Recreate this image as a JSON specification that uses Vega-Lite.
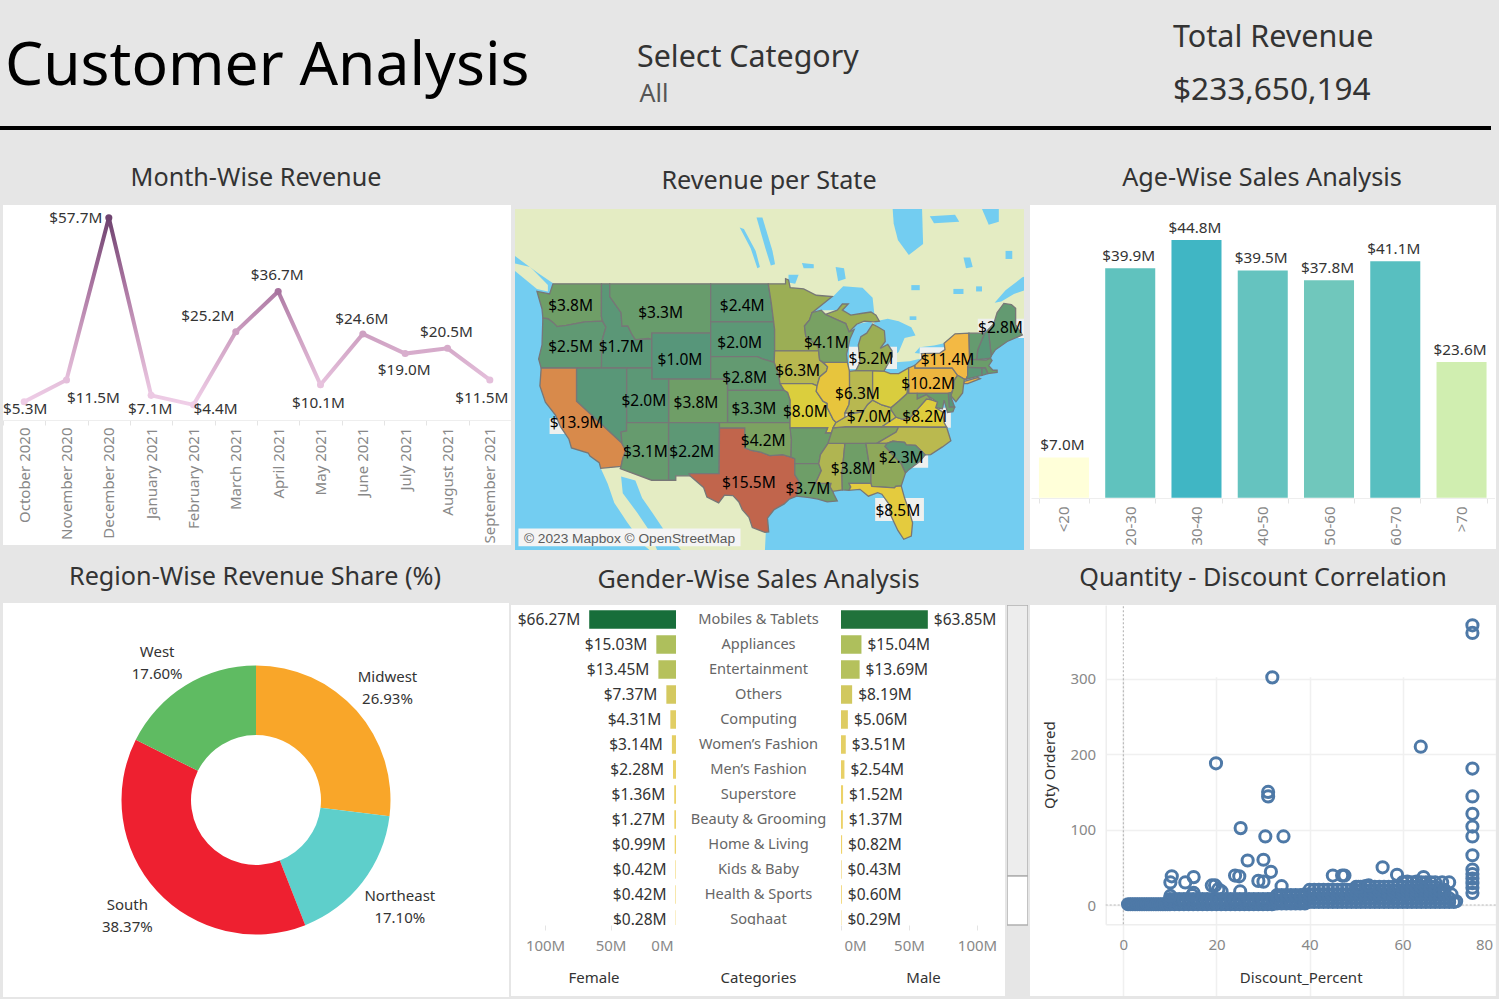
{"$schema":"https://vega.github.io/schema/vega-lite/v6.json","background":"#e6e6e6","padding":{"left":0,"top":0,"right":0,"bottom":2},"config":{"font":"Noto Sans","concat":{"spacing":0},"view":{"stroke":null},"style":{"cell":{"clip":true}},"axis":{"labelFont":"Noto Sans","titleFont":"Noto Sans"}},
"resolve":{"scale":{"color":"independent"}},
"datasets":{
"months":[{"month":"October 2020","rev":5.3,"label":"$5.3M"},{"month":"November 2020","rev":11.5,"label":"$11.5M"},{"month":"December 2020","rev":57.7,"label":"$57.7M"},{"month":"January 2021","rev":7.1,"label":"$7.1M"},{"month":"February 2021","rev":4.4,"label":"$4.4M"},{"month":"March 2021","rev":25.2,"label":"$25.2M"},{"month":"April 2021","rev":36.7,"label":"$36.7M"},{"month":"May 2021","rev":10.1,"label":"$10.1M"},{"month":"June 2021","rev":24.6,"label":"$24.6M"},{"month":"July 2021","rev":19.0,"label":"$19.0M"},{"month":"August 2021","rev":20.5,"label":"$20.5M"},{"month":"September 2021","rev":11.5,"label":"$11.5M"}],
"ages":[{"age":"<20","rev":7.0,"label":"$7.0M"},{"age":"20-30","rev":39.9,"label":"$39.9M"},{"age":"30-40","rev":44.8,"label":"$44.8M"},{"age":"40-50","rev":39.5,"label":"$39.5M"},{"age":"50-60","rev":37.8,"label":"$37.8M"},{"age":"60-70","rev":41.1,"label":"$41.1M"},{"age":">70","rev":23.6,"label":"$23.6M"}],
"regions":[{"region":"Midwest","share":26.93,"pct":"26.93%","i":1},{"region":"Northeast","share":17.10,"pct":"17.10%","i":2},{"region":"South","share":38.37,"pct":"38.37%","i":3},{"region":"West","share":17.60,"pct":"17.60%","i":4}],
"gender":[{"cat":"Mobiles & Tablets","f":66.27,"m":63.85,"fl":"$66.27M","ml":"$63.85M"},{"cat":"Appliances","f":15.03,"m":15.04,"fl":"$15.03M","ml":"$15.04M"},{"cat":"Entertainment","f":13.45,"m":13.69,"fl":"$13.45M","ml":"$13.69M"},{"cat":"Others","f":7.37,"m":8.19,"fl":"$7.37M","ml":"$8.19M"},{"cat":"Computing","f":4.31,"m":5.06,"fl":"$4.31M","ml":"$5.06M"},{"cat":"Women’s Fashion","f":3.14,"m":3.51,"fl":"$3.14M","ml":"$3.51M"},{"cat":"Men’s Fashion","f":2.28,"m":2.54,"fl":"$2.28M","ml":"$2.54M"},{"cat":"Superstore","f":1.36,"m":1.52,"fl":"$1.36M","ml":"$1.52M"},{"cat":"Beauty & Grooming","f":1.27,"m":1.37,"fl":"$1.27M","ml":"$1.37M"},{"cat":"Home & Living","f":0.99,"m":0.82,"fl":"$0.99M","ml":"$0.82M"},{"cat":"Kids & Baby","f":0.42,"m":0.43,"fl":"$0.42M","ml":"$0.43M"},{"cat":"Health & Sports","f":0.42,"m":0.60,"fl":"$0.42M","ml":"$0.60M"},{"cat":"Soghaat","f":0.28,"m":0.29,"fl":"$0.28M","ml":"$0.29M"}],
"land":[
{"type":"Feature","properties":{"name":"North America"},"geometry":{"type":"Polygon","coordinates":[[[-130,62],[-95,64],[-60,62],[-60,47],[-66.9,45.1],[-69,45],[-72,43],[-75,41],[-78,37],[-81,33],[-82,30],[-84,31],[-90,31],[-94,30.5],[-98,28],[-97.5,25.9],[-97.6,24],[-97.8,22],[-106,22],[-108,24.5],[-109.5,26],[-111,28],[-112.2,29.5],[-113,31.3],[-114.7,31.7],[-114.5,30],[-112.8,28],[-111.3,26],[-110,23],[-112,24.5],[-114,27],[-115.5,29],[-116.3,31],[-117.12,32.53],[-117,33.5],[-120,36],[-122,39],[-123,42],[-122.5,46],[-122.7,49],[-124.5,49.8],[-126,50.5],[-127.5,51.2],[-128,52],[-130,54],[-130,62]]]}},
{"type":"Feature","properties":{"name":"Vancouver Island"},"geometry":{"type":"Polygon","coordinates":[[[-128.3,50.7],[-125.5,50.3],[-123.4,48.9],[-123.4,48.4],[-124.7,48.6],[-128.3,50.5],[-128.3,50.7]]]}}],
"water":[
{"type":"Feature","properties":{"name":"Superior"},"geometry":{"type":"Polygon","coordinates":[[[-92,46.7],[-90.5,47.6],[-89.5,48],[-88.3,48.8],[-86,48.7],[-84.8,47.9],[-84.6,46.6],[-85,46.75],[-86,46.65],[-87.4,46.5],[-88.4,46.9],[-87.7,47.4],[-88.4,47.4],[-89,46.9],[-90.9,46.9],[-92,46.7]]]}},
{"type":"Feature","properties":{"name":"Michigan"},"geometry":{"type":"Polygon","coordinates":[[[-87.6,45.1],[-86.7,45.75],[-85,46],[-84.8,45.75],[-85.5,45],[-86.2,44.7],[-86.5,44],[-86.3,42.5],[-86.8,41.76],[-87.55,41.7],[-87.8,42.5],[-87.9,43.2],[-87.5,44.5],[-87.6,45.1]]]}},
{"type":"Feature","properties":{"name":"Huron"},"geometry":{"type":"Polygon","coordinates":[[[-84.4,46],[-83,46.2],[-81.7,46],[-80.2,45.5],[-79.7,44.8],[-81,44.6],[-81.7,43.4],[-82.45,43],[-82.5,43.5],[-83,44.05],[-83.9,43.7],[-83.3,44.3],[-83.4,45.2],[-84.1,45.5],[-84.7,45.8],[-84.4,46]]]}},
{"type":"Feature","properties":{"name":"Erie"},"geometry":{"type":"Polygon","coordinates":[[[-83.45,41.72],[-83.1,42.2],[-82,42.5],[-80.4,42.6],[-78.9,42.85],[-79.76,42.25],[-80.52,42],[-81.7,41.5],[-82.7,41.5],[-83.45,41.72]]]}},
{"type":"Feature","properties":{"name":"Ontario"},"geometry":{"type":"Polygon","coordinates":[[[-79.8,43.3],[-79.2,43.8],[-77.5,43.95],[-76.3,44.15],[-76.2,43.6],[-76.8,43.3],[-79,43.25],[-79.8,43.3]]]}},
{"type":"Feature","properties":{"name":"St Lawrence"},"geometry":{"type":"Polygon","coordinates":[[[-70.3,47.5],[-69,48.5],[-67,49.5],[-65,50],[-65,48.9],[-68,48.2],[-69.5,47.6],[-70.3,47.5]]]}},
{"type":"Feature","properties":{"name":"James Bay"},"geometry":{"type":"Polygon","coordinates":[[[-82.6,56],[-79,56],[-78.8,52],[-80.5,51.2],[-81.8,52.3],[-82.3,53.5],[-82.6,56]]]}},
{"type":"Feature","properties":{"name":"Winnipeg"},"geometry":{"type":"Polygon","coordinates":[[[-98.6,53.9],[-97.9,53.9],[-96.7,51.5],[-96.4,50.5],[-96.9,50.4],[-97.6,51.8],[-98.6,53.9]]]}},
{"type":"Feature","properties":{"name":"Winnipegosis"},"geometry":{"type":"Polygon","coordinates":[[[-100.6,53.2],[-100.1,53.1],[-98.7,51.5],[-98.2,50.3],[-98.5,50.2],[-99.3,51.7],[-100.6,53.2]]]}},
{"type":"Feature","properties":{"name":"Lake of the Woods"},"geometry":{"type":"Polygon","coordinates":[[[-94.8,49.7],[-93.6,49.7],[-94,49],[-94.8,49.1],[-94.8,49.7]]]}},
{"type":"Feature","properties":{"name":"Nipigon"},"geometry":{"type":"Polygon","coordinates":[[[-89.2,50.3],[-88.2,50.2],[-88,49.4],[-88.9,49.2],[-89.2,50.3]]]}},
{"type":"Feature","properties":{"name":"Seul"},"geometry":{"type":"Polygon","coordinates":[[[-93.2,50.6],[-91.8,50.5],[-91.8,50.2],[-93,50.2],[-93.2,50.6]]]}},
{"type":"Feature","properties":{"name":"Mistassini"},"geometry":{"type":"Polygon","coordinates":[[[-74,51],[-73.2,51],[-72.9,50.3],[-73.7,50.2],[-74,51]]]}},
{"type":"Feature","properties":{"name":"La Grande"},"geometry":{"type":"Polygon","coordinates":[[[-78,54],[-75,54.1],[-74.5,53.6],[-77.5,53.5],[-78,54]]]}},
{"type":"Feature","properties":{"name":"Caniapiscau"},"geometry":{"type":"Polygon","coordinates":[[[-71.8,54.5],[-69.8,54.5],[-69.8,53.6],[-71,53.4],[-71.8,54.5]]]}},
{"type":"Feature","properties":{"name":"Manicouagan"},"geometry":{"type":"Polygon","coordinates":[[[-69,51.5],[-68.2,51.5],[-68.2,50.9],[-69,50.9],[-69,51.5]]]}},
{"type":"Feature","properties":{"name":"Saint-Jean"},"geometry":{"type":"Polygon","coordinates":[[[-72.5,48.8],[-71.8,48.8],[-71.8,48.4],[-72.5,48.4],[-72.5,48.8]]]}},
{"type":"Feature","properties":{"name":"Gouin"},"geometry":{"type":"Polygon","coordinates":[[[-75.2,48.6],[-74,48.6],[-74,48.2],[-75.2,48.2],[-75.2,48.6]]]}},
{"type":"Feature","properties":{"name":"Abitibi"},"geometry":{"type":"Polygon","coordinates":[[[-80.2,48.9],[-79.2,48.9],[-79.2,48.5],[-80.2,48.5],[-80.2,48.9]]]}},
{"type":"Feature","properties":{"name":"Nipissing"},"geometry":{"type":"Polygon","coordinates":[[[-80.4,46.4],[-79.6,46.4],[-79.6,46.1],[-80.4,46.1],[-80.4,46.4]]]}}],
"boxes":[
{"type":"Feature","properties":{"name":"CA"},"geometry":{"type":"Polygon","coordinates":[[[-123.2,37.4],[-116.8,37.4],[-116.8,35.9],[-123.2,35.9],[-123.2,37.4]]]}},
{"type":"Feature","properties":{"name":"MI"},"geometry":{"type":"Polygon","coordinates":[[[-87.6,43.85],[-81.9,43.85],[-81.9,41.9],[-87.6,41.9],[-87.6,43.85]]]}},
{"type":"Feature","properties":{"name":"NY"},"geometry":{"type":"Polygon","coordinates":[[[-79.2,43.8],[-72.7,43.8],[-72.7,41.8],[-79.2,41.8],[-79.2,43.8]]]}},
{"type":"Feature","properties":{"name":"ME"},"geometry":{"type":"Polygon","coordinates":[[[-72.3,46.2],[-66.8,46.2],[-66.8,44.6],[-72.3,44.6],[-72.3,46.2]]]}},
{"type":"Feature","properties":{"name":"FL"},"geometry":{"type":"Polygon","coordinates":[[[-84.5,29.5],[-78.7,29.5],[-78.7,27.1],[-84.5,27.1],[-84.5,29.5]]]}},
{"type":"Feature","properties":{"name":"SC"},"geometry":{"type":"Polygon","coordinates":[[[-83.9,34.3],[-78.2,34.3],[-78.2,32.6],[-83.9,32.6],[-83.9,34.3]]]}},
{"type":"Feature","properties":{"name":"VA"},"geometry":{"type":"Polygon","coordinates":[[[-81.3,38.4],[-75.5,38.4],[-75.5,36.5],[-81.3,36.5],[-81.3,38.4]]]}}],
"credit":[{"type":"Feature","properties":{"name":"credit"},"geometry":{"type":"Polygon","coordinates":[[[-126.9,26.3],[-120,26.3],[-113.7,26.3],[-107,26.3],[-100.5,26.3],[-100.5,24.4],[-107,24.4],[-113.7,24.4],[-120,24.4],[-126.9,24.4],[-126.9,26.3]]]}}],
"states":[
{"type":"Feature","properties":{"name":"WA","rev":3.8},"geometry":{"type":"Polygon","coordinates":[[[-124.7,48.4],[-123.2,48.2],[-122.8,49],[-117.03,49],[-117.04,46.4],[-116.9,46],[-119,45.95],[-121.2,45.65],[-122.3,45.55],[-122.8,45.9],[-123.4,46.2],[-124,46.25],[-124.1,47],[-124.7,48.4]]]}},
{"type":"Feature","properties":{"name":"OR","rev":2.5},"geometry":{"type":"Polygon","coordinates":[[[-124,46.25],[-123.4,46.2],[-122.8,45.9],[-122.3,45.55],[-121.2,45.65],[-119,45.95],[-116.9,46],[-116.5,45.5],[-117,44.3],[-117.03,42],[-120,42],[-124.2,42],[-124.5,42.8],[-124.1,44],[-124,46.25]]]}},
{"type":"Feature","properties":{"name":"ID","rev":1.7},"geometry":{"type":"Polygon","coordinates":[[[-117.03,49],[-116.05,49],[-116.05,48],[-114.7,46.7],[-114.6,45.6],[-113.9,45.6],[-113.45,44.95],[-113,44.45],[-111.5,44.55],[-111.05,44.5],[-111.05,42],[-114.05,42],[-117.03,42],[-117,44.3],[-116.5,45.5],[-116.9,46],[-117.04,46.4],[-117.03,49]]]}},
{"type":"Feature","properties":{"name":"MT","rev":3.3},"geometry":{"type":"Polygon","coordinates":[[[-116.05,49],[-111,49],[-104.05,49],[-104.05,45],[-107.5,45],[-111.05,45],[-111.05,44.5],[-111.5,44.55],[-113,44.45],[-113.45,44.95],[-113.9,45.6],[-114.6,45.6],[-114.7,46.7],[-116.05,48],[-116.05,49]]]}},
{"type":"Feature","properties":{"name":"WY","rev":1.0},"geometry":{"type":"Polygon","coordinates":[[[-111.05,45],[-107.5,45],[-104.05,45],[-104.05,41],[-107.5,41],[-111.05,41],[-111.05,45]]]}},
{"type":"Feature","properties":{"name":"ND","rev":2.4},"geometry":{"type":"Polygon","coordinates":[[[-104.05,49],[-100,49],[-97.2,49],[-96.85,47.5],[-96.56,45.94],[-100,45.94],[-104.05,45.94],[-104.05,49]]]}},
{"type":"Feature","properties":{"name":"SD","rev":2.0},"geometry":{"type":"Polygon","coordinates":[[[-104.05,45.94],[-100,45.94],[-96.56,45.94],[-96.45,45.3],[-96.45,43.5],[-96.5,42.5],[-97.9,42.8],[-98.5,43],[-101,43],[-104.05,43],[-104.05,45.94]]]}},
{"type":"Feature","properties":{"name":"NE","rev":2.8},"geometry":{"type":"Polygon","coordinates":[[[-104.05,43],[-101,43],[-98.5,43],[-97.9,42.8],[-96.5,42.5],[-96,41.5],[-95.8,40.6],[-95.3,40],[-98,40],[-102.05,40],[-102.05,41],[-104.05,41],[-104.05,43]]]}},
{"type":"Feature","properties":{"name":"KS","rev":3.3},"geometry":{"type":"Polygon","coordinates":[[[-102.05,40],[-98,40],[-95.3,40],[-94.9,39.8],[-94.6,39.1],[-94.62,37],[-98,37],[-102.05,37],[-102.05,40]]]}},
{"type":"Feature","properties":{"name":"CO","rev":3.8},"geometry":{"type":"Polygon","coordinates":[[[-109.05,41],[-104.05,41],[-102.05,41],[-102.05,37],[-105,37],[-109.05,37],[-109.05,41]]]}},
{"type":"Feature","properties":{"name":"UT","rev":2.0},"geometry":{"type":"Polygon","coordinates":[[[-114.05,42],[-111.05,42],[-111.05,41],[-109.05,41],[-109.05,37],[-111.5,37],[-114.05,37],[-114.05,42]]]}},
{"type":"Feature","properties":{"name":"NV","rev":1.4},"geometry":{"type":"Polygon","coordinates":[[[-120,42],[-117.03,42],[-114.05,42],[-114.05,37],[-114.05,36.2],[-114.7,36.1],[-114.6,35],[-120,39],[-120,42]]]}},
{"type":"Feature","properties":{"name":"CA","rev":13.9},"geometry":{"type":"Polygon","coordinates":[[[-124.2,42],[-120,42],[-120,39],[-114.6,35],[-114.15,34.3],[-114.5,33.5],[-114.7,32.72],[-117.12,32.53],[-117.3,33.1],[-118.4,33.75],[-118.6,34.05],[-120.6,34.55],[-120.9,35.4],[-121.9,36.6],[-122.5,37.7],[-123.7,38.9],[-124.35,40.4],[-124.2,42]]]}},
{"type":"Feature","properties":{"name":"AZ","rev":3.1},"geometry":{"type":"Polygon","coordinates":[[[-114.05,37],[-111.5,37],[-109.05,37],[-109.05,31.33],[-111.07,31.33],[-114.8,32.5],[-114.7,32.72],[-114.5,33.5],[-114.15,34.3],[-114.6,35],[-114.7,36.1],[-114.05,36.2],[-114.05,37]]]}},
{"type":"Feature","properties":{"name":"NM","rev":2.2},"geometry":{"type":"Polygon","coordinates":[[[-109.05,37],[-105,37],[-103,37],[-103,36.5],[-103.05,32],[-106.6,32],[-106.5,31.78],[-108.2,31.78],[-108.2,31.33],[-109.05,31.33],[-109.05,37]]]}},
{"type":"Feature","properties":{"name":"TX","rev":15.5},"geometry":{"type":"Polygon","coordinates":[[[-103,36.5],[-100,36.5],[-100,34.56],[-99.2,34.3],[-98.1,34.13],[-97,33.8],[-95.5,33.9],[-94.5,33.64],[-94.05,33.5],[-94.05,33],[-94.05,31.9],[-93.55,31.2],[-93.8,29.7],[-94.7,29.4],[-95.3,28.9],[-96.5,28.3],[-97.3,27.4],[-97.15,25.95],[-97.6,25.9],[-99.1,26.4],[-99.5,27.5],[-100.3,28.3],[-100.7,29.1],[-101.4,29.75],[-102.4,29.8],[-103.1,29],[-104.5,29.6],[-104.9,30.6],[-106.5,31.78],[-106.6,32],[-103.05,32],[-103,36.5]]]}},
{"type":"Feature","properties":{"name":"OK","rev":4.2},"geometry":{"type":"Polygon","coordinates":[[[-103,37],[-98,37],[-94.62,37],[-94.45,35.4],[-94.5,33.64],[-95.5,33.9],[-97,33.8],[-98.1,34.13],[-99.2,34.3],[-100,34.56],[-100,36.5],[-103,36.5],[-103,37]]]}},
{"type":"Feature","properties":{"name":"MN","rev":5.2},"geometry":{"type":"Polygon","coordinates":[[[-97.2,49],[-95.15,49],[-95.15,49.4],[-94.8,49.3],[-94.6,48.7],[-93,48.6],[-91.5,48.1],[-89.6,48],[-92,46.7],[-92.3,46.1],[-92.9,45.6],[-92.75,44.75],[-91.25,43.85],[-91.22,43.5],[-93.5,43.5],[-96.45,43.5],[-96.45,45.3],[-96.56,45.94],[-96.85,47.5],[-97.2,49]]]}},
{"type":"Feature","properties":{"name":"IA","rev":6.3},"geometry":{"type":"Polygon","coordinates":[[[-96.45,43.5],[-93.5,43.5],[-91.22,43.5],[-91.1,42.7],[-90.15,42.1],[-90.3,41.7],[-91.1,41.2],[-91.4,40.4],[-92,40.6],[-94,40.6],[-95.8,40.6],[-96,41.5],[-96.5,42.5],[-96.45,43.5]]]}},
{"type":"Feature","properties":{"name":"MO","rev":8.0},"geometry":{"type":"Polygon","coordinates":[[[-95.8,40.6],[-94,40.6],[-92,40.6],[-91.4,40.4],[-91.5,39.9],[-90.7,39],[-90.2,38.8],[-90.2,38.4],[-89.5,37.3],[-89.15,37],[-89.5,36.5],[-89.7,36],[-90.4,36],[-90.15,36.5],[-92,36.5],[-94.62,36.5],[-94.62,37],[-94.6,39.1],[-94.9,39.8],[-95.3,40],[-95.8,40.6]]]}},
{"type":"Feature","properties":{"name":"AR","rev":3.6},"geometry":{"type":"Polygon","coordinates":[[[-94.62,36.5],[-92,36.5],[-90.15,36.5],[-90.4,36],[-89.7,36],[-90.1,35],[-91,33.9],[-91.2,33],[-93,33],[-94.05,33],[-94.05,33.5],[-94.5,33.64],[-94.45,35.4],[-94.62,36.5]]]}},
{"type":"Feature","properties":{"name":"LA","rev":3.7},"geometry":{"type":"Polygon","coordinates":[[[-94.05,33],[-93,33],[-91.2,33],[-90.9,32.3],[-91.6,31],[-89.75,31],[-89.85,30.65],[-89.55,30.2],[-89.4,29.9],[-89,29.2],[-90.2,29.1],[-91.3,29.4],[-92.3,29.55],[-93.8,29.7],[-93.55,31.2],[-94.05,31.9],[-94.05,33]]]}},
{"type":"Feature","properties":{"name":"MS","rev":6.0},"geometry":{"type":"Polygon","coordinates":[[[-90.1,35],[-88.2,35],[-88.1,34.9],[-88.45,31.9],[-88.4,30.35],[-89.55,30.2],[-89.85,30.65],[-89.75,31],[-91.6,31],[-90.9,32.3],[-91.2,33],[-91,33.9],[-90.1,35]]]}},
{"type":"Feature","properties":{"name":"AL","rev":3.8},"geometry":{"type":"Polygon","coordinates":[[[-88.2,35],[-85.6,35],[-85.2,32.9],[-85,32.3],[-85,31],[-87.6,31],[-87.4,30.65],[-87.6,30.3],[-88.4,30.35],[-88.45,31.9],[-88.1,34.9],[-88.2,35]]]}},
{"type":"Feature","properties":{"name":"TN","rev":4.5},"geometry":{"type":"Polygon","coordinates":[[[-89.5,36.5],[-88,36.6],[-86,36.6],[-83.7,36.6],[-81.7,36.6],[-82,36.1],[-84.3,35],[-85.6,35],[-88.2,35],[-90.1,35],[-89.7,36],[-89.5,36.5]]]}},
{"type":"Feature","properties":{"name":"KY","rev":7.0},"geometry":{"type":"Polygon","coordinates":[[[-89.15,37],[-88.1,37.5],[-87,37.9],[-86,38],[-85.4,38.7],[-84.8,39.1],[-83.7,38.65],[-82.6,38.4],[-82.6,38.2],[-82,37.5],[-83.7,36.6],[-86,36.6],[-88,36.6],[-89.5,36.5],[-89.15,37]]]}},
{"type":"Feature","properties":{"name":"IL","rev":9.0},"geometry":{"type":"Polygon","coordinates":[[[-90.65,42.5],[-87.8,42.5],[-87.55,41.7],[-87.53,39.3],[-87.6,38.7],[-88.1,37.9],[-88.1,37.5],[-89.15,37],[-89.5,37.3],[-90.2,38.4],[-90.2,38.8],[-90.7,39],[-91.5,39.9],[-91.4,40.4],[-91.1,41.2],[-90.3,41.7],[-90.15,42.1],[-90.65,42.5]]]}},
{"type":"Feature","properties":{"name":"IN","rev":6.3},"geometry":{"type":"Polygon","coordinates":[[[-87.55,41.7],[-86.8,41.76],[-84.8,41.76],[-84.8,39.1],[-85.4,38.7],[-86,38],[-87,37.9],[-88.1,37.9],[-87.6,38.7],[-87.53,39.3],[-87.55,41.7]]]}},
{"type":"Feature","properties":{"name":"OH","rev":7.9},"geometry":{"type":"Polygon","coordinates":[[[-84.8,41.76],[-83.45,41.72],[-82.7,41.5],[-81.7,41.5],[-80.52,42],[-80.52,40.65],[-80.7,39.7],[-81.7,39],[-82.6,38.4],[-83.7,38.65],[-84.8,39.1],[-84.8,41.76]]]}},
{"type":"Feature","properties":{"name":"MI","rev":5.2},"geometry":{"type":"MultiPolygon","coordinates":[[[[-86.5,44],[-86.2,44.7],[-85.5,45],[-84.8,45.75],[-84.1,45.5],[-83.4,45.2],[-83.3,44.3],[-83.9,43.7],[-83,44.05],[-82.5,43.5],[-82.45,43],[-83.1,42.2],[-83.45,41.72],[-84.8,41.76],[-86.8,41.76],[-86.3,42.5],[-86.5,44]]],[[[-90.4,46.55],[-89,46.9],[-88.4,47.4],[-87.7,47.4],[-88.4,46.9],[-87.4,46.5],[-86,46.65],[-85,46.75],[-84.4,46.5],[-84,46],[-84.7,45.95],[-85.8,46],[-86.7,45.75],[-87.6,45.1],[-88,45.8],[-89,46.1],[-90.4,46.55]]]]}},
{"type":"Feature","properties":{"name":"WI","rev":4.1},"geometry":{"type":"Polygon","coordinates":[[[-92,46.7],[-90.9,46.9],[-90.4,46.55],[-89,46.1],[-88,45.8],[-87.6,45.1],[-87,45.3],[-87.5,44.5],[-87.9,43.2],[-87.8,42.5],[-90.65,42.5],[-91.1,42.7],[-91.22,43.5],[-91.25,43.85],[-92.75,44.75],[-92.9,45.6],[-92.3,46.1],[-92,46.7]]]}},
{"type":"Feature","properties":{"name":"PA","rev":10.2},"geometry":{"type":"Polygon","coordinates":[[[-80.52,42],[-79.76,42.25],[-79.76,42],[-75.35,42],[-74.7,41.35],[-75.1,40.9],[-75.2,40.2],[-75.4,39.8],[-75.8,39.72],[-79.5,39.72],[-80.52,39.72],[-80.52,40.65],[-80.52,42]]]}},
{"type":"Feature","properties":{"name":"NY","rev":11.4},"geometry":{"type":"MultiPolygon","coordinates":[[[[-79.76,42.25],[-78.9,42.85],[-79,43.25],[-76.8,43.3],[-76.2,43.6],[-76.3,44.15],[-75,44.95],[-73.35,45],[-73.3,43.6],[-73.27,42.75],[-73.5,42.05],[-73.5,41.3],[-73.7,41],[-73.9,41],[-74.7,41.35],[-75.35,42],[-79.76,42],[-79.76,42.25]]],[[[-73.9,40.8],[-72.3,41.15],[-72,41.05],[-73.5,40.6],[-74,40.6],[-73.9,40.8]]]]}},
{"type":"Feature","properties":{"name":"NJ","rev":5.0},"geometry":{"type":"Polygon","coordinates":[[[-74.7,41.35],[-73.9,41],[-74,40.45],[-74.1,39.75],[-74.9,38.95],[-75.5,39.5],[-75.2,40.2],[-75.1,40.9],[-74.7,41.35]]]}},
{"type":"Feature","properties":{"name":"DE","rev":1.2},"geometry":{"type":"Polygon","coordinates":[[[-75.8,39.72],[-75.4,39.8],[-75.5,39.4],[-75.05,38.45],[-75.7,38.45],[-75.8,39.72]]]}},
{"type":"Feature","properties":{"name":"MD","rev":3.5},"geometry":{"type":"Polygon","coordinates":[[[-79.5,39.72],[-75.8,39.72],[-75.7,38.45],[-75.05,38.45],[-75.25,38.03],[-75.9,37.95],[-76.3,39.1],[-76.5,38.3],[-77.3,38.4],[-77.1,38.9],[-78.4,39.6],[-79.5,39.2],[-79.5,39.72]]]}},
{"type":"Feature","properties":{"name":"VA","rev":8.2},"geometry":{"type":"Polygon","coordinates":[[[-83.7,36.6],[-82,37.5],[-81.2,37.3],[-80.3,37.5],[-79.3,38.4],[-78.4,39.2],[-77.85,39.15],[-77.1,38.9],[-77.3,38.4],[-76.5,38],[-76.3,37],[-76,36.55],[-78,36.55],[-81.7,36.6],[-83.7,36.6]]]}},
{"type":"Feature","properties":{"name":"WV","rev":4.8},"geometry":{"type":"Polygon","coordinates":[[[-80.52,40.65],[-80.52,39.72],[-79.5,39.72],[-79.5,39.2],[-78.4,39.6],[-77.85,39.15],[-78.4,39.2],[-79.3,38.4],[-80.3,37.5],[-81.2,37.3],[-82,37.5],[-82.6,38.2],[-82.6,38.4],[-81.7,39],[-80.7,39.7],[-80.52,40.65]]]}},
{"type":"Feature","properties":{"name":"NC","rev":6.4},"geometry":{"type":"Polygon","coordinates":[[[-84.3,35],[-82,36.1],[-81.7,36.6],[-78,36.55],[-76,36.55],[-75.5,35.25],[-76.5,34.65],[-77.9,33.9],[-78.55,33.87],[-79.7,34.8],[-80.8,34.85],[-81,35.1],[-82.4,35.2],[-83.1,35],[-84.3,35]]]}},
{"type":"Feature","properties":{"name":"SC","rev":2.3},"geometry":{"type":"Polygon","coordinates":[[[-83.1,35],[-82.4,35.2],[-81,35.1],[-80.8,34.85],[-79.7,34.8],[-78.55,33.87],[-79.2,33.2],[-80.5,32.4],[-80.9,32.05],[-81.4,33],[-82,33.5],[-83.35,34.7],[-83.1,35]]]}},
{"type":"Feature","properties":{"name":"GA","rev":4.8},"geometry":{"type":"Polygon","coordinates":[[[-85.6,35],[-84.3,35],[-83.1,35],[-83.35,34.7],[-82,33.5],[-81.4,33],[-80.9,32.05],[-81.4,30.75],[-82.05,30.7],[-82.2,30.55],[-84.9,30.7],[-85,31],[-85,32.3],[-85.2,32.9],[-85.6,35]]]}},
{"type":"Feature","properties":{"name":"FL","rev":8.5},"geometry":{"type":"Polygon","coordinates":[[[-87.6,31],[-85,31],[-84.9,30.7],[-82.2,30.55],[-82.05,30.7],[-81.4,30.75],[-81,29.5],[-80.5,28.3],[-80.05,26.9],[-80.2,25.5],[-81.1,25.15],[-81.8,26.1],[-82.7,27.8],[-82.8,28.8],[-83.7,29.9],[-84.2,30.05],[-85.3,29.7],[-86.3,30.4],[-87.6,30.3],[-87.4,30.65],[-87.6,31]]]}},
{"type":"Feature","properties":{"name":"ME","rev":2.8},"geometry":{"type":"Polygon","coordinates":[[[-71.05,45.3],[-70.4,45.8],[-70,46.7],[-69.2,47.45],[-68.3,47.35],[-67.8,47.05],[-67.8,45.7],[-67,44.85],[-68.8,44.3],[-70.2,43.6],[-70.7,43.05],[-71.05,45.3]]]}},
{"type":"Feature","properties":{"name":"NH","rev":1.4},"geometry":{"type":"Polygon","coordinates":[[[-71.5,45],[-71.05,45.3],[-70.7,43.05],[-70.8,42.87],[-72.45,42.73],[-72.3,43.6],[-71.5,45]]]}},
{"type":"Feature","properties":{"name":"VT","rev":3.0},"geometry":{"type":"Polygon","coordinates":[[[-73.35,45],[-71.5,45],[-72.3,43.6],[-72.45,42.73],[-73.27,42.75],[-73.3,43.6],[-73.35,45]]]}},
{"type":"Feature","properties":{"name":"MA","rev":3.5},"geometry":{"type":"Polygon","coordinates":[[[-73.27,42.75],[-71.3,42.7],[-70.8,42.87],[-70.6,42.65],[-71,42.2],[-70.5,41.8],[-70,41.8],[-70,41.6],[-71.1,41.5],[-71.4,42],[-73.5,42.05],[-73.27,42.75]]]}},
{"type":"Feature","properties":{"name":"CT","rev":2.0},"geometry":{"type":"Polygon","coordinates":[[[-73.5,42.05],[-71.8,42],[-71.8,41.35],[-73.7,41],[-73.5,41.3],[-73.5,42.05]]]}},
{"type":"Feature","properties":{"name":"RI","rev":2.0},"geometry":{"type":"Polygon","coordinates":[[[-71.8,42],[-71.4,42],[-71.1,41.5],[-71.8,41.35],[-71.8,42]]]}}],
"stateLabels":[{"s":"WA","lon":-120.7,"lat":47.2,"t":"$3.8M"},{"s":"OR","lon":-120.7,"lat":43.8,"t":"$2.5M"},{"s":"ID","lon":-114.7,"lat":43.8,"t":"$1.7M"},{"s":"MT","lon":-110,"lat":46.7,"t":"$3.3M"},{"s":"ND","lon":-100.3,"lat":47.2,"t":"$2.4M"},{"s":"SD","lon":-100.6,"lat":44.2,"t":"$2.0M"},{"s":"WY","lon":-107.7,"lat":42.7,"t":"$1.0M"},{"s":"NE","lon":-100,"lat":41.15,"t":"$2.8M"},{"s":"CO","lon":-105.8,"lat":38.8,"t":"$3.8M"},{"s":"UT","lon":-112,"lat":39,"t":"$2.0M"},{"s":"CA","lon":-120,"lat":37,"t":"$13.9M"},{"s":"AZ","lon":-111.8,"lat":34.2,"t":"$3.1M"},{"s":"NM","lon":-106.3,"lat":34.2,"t":"$2.2M"},{"s":"KS","lon":-98.9,"lat":38.3,"t":"$3.3M"},{"s":"OK","lon":-97.8,"lat":35.2,"t":"$4.2M"},{"s":"TX","lon":-99.5,"lat":31,"t":"$15.5M"},{"s":"IA","lon":-93.7,"lat":41.7,"t":"$6.3M"},{"s":"MO","lon":-92.8,"lat":38,"t":"$8.0M"},{"s":"LA","lon":-92.5,"lat":30.4,"t":"$3.7M"},{"s":"WI","lon":-90.3,"lat":44.2,"t":"$4.1M"},{"s":"IN","lon":-86.6,"lat":39.7,"t":"$6.3M"},{"s":"MI","lon":-85,"lat":42.8,"t":"$5.2M"},{"s":"KY","lon":-85.2,"lat":37.5,"t":"$7.0M"},{"s":"AL","lon":-87.1,"lat":32.5,"t":"$3.8M"},{"s":"SC","lon":-81.4,"lat":33.6,"t":"$2.3M"},{"s":"VA","lon":-78.6,"lat":37.5,"t":"$8.2M"},{"s":"PA","lon":-78.2,"lat":40.6,"t":"$10.2M"},{"s":"NY","lon":-75.9,"lat":42.7,"t":"$11.4M"},{"s":"FL","lon":-81.8,"lat":28.2,"t":"$8.5M"},{"s":"ME","lon":-69.6,"lat":45.4,"t":"$2.8M"}],
"orders":[{"d":1,"q":1},{"d":1.5,"q":1},{"d":2,"q":1},{"d":2.5,"q":1},{"d":3,"q":1},{"d":3.5,"q":1},{"d":4,"q":1},{"d":4.5,"q":1},{"d":5,"q":1},{"d":5.5,"q":1},{"d":6,"q":1},{"d":6.5,"q":1},{"d":7,"q":1},{"d":7.5,"q":1},{"d":8,"q":1},{"d":8.5,"q":1},{"d":9,"q":1},{"d":9.5,"q":1},
{"d":10,"q":1},{"d":10,"q":5},{"d":10,"q":8},{"d":11,"q":1},{"d":11,"q":5},{"d":11,"q":8},{"d":12,"q":1},{"d":12,"q":5},{"d":12,"q":8},{"d":13,"q":1},{"d":13,"q":5},{"d":13,"q":8},{"d":14,"q":1},{"d":14,"q":5},{"d":14,"q":8},{"d":15,"q":1},{"d":15,"q":5},{"d":15,"q":8},{"d":16,"q":1},{"d":16,"q":5},{"d":16,"q":8},{"d":17,"q":1},{"d":17,"q":5},{"d":17,"q":8},{"d":18,"q":1},{"d":18,"q":5},{"d":18,"q":8},{"d":19,"q":1},{"d":19,"q":5},{"d":19,"q":8},{"d":20,"q":1},{"d":20,"q":5},{"d":20,"q":8},{"d":21,"q":1},{"d":21,"q":5},{"d":21,"q":8},{"d":22,"q":1},{"d":22,"q":5},{"d":22,"q":8},{"d":23,"q":1},{"d":23,"q":5},{"d":23,"q":8},{"d":24,"q":1},{"d":24,"q":5},{"d":24,"q":8},{"d":25,"q":1},{"d":25,"q":5},{"d":25,"q":8},{"d":26,"q":1},{"d":26,"q":5},{"d":26,"q":8},{"d":27,"q":1},{"d":27,"q":5},{"d":27,"q":8},{"d":28,"q":1},{"d":28,"q":5},{"d":28,"q":8},{"d":29,"q":1},{"d":29,"q":5},{"d":29,"q":8},{"d":30,"q":1},{"d":30,"q":5},{"d":30,"q":8},{"d":31,"q":1},{"d":31,"q":5},{"d":31,"q":8},{"d":32,"q":1},{"d":32,"q":5},{"d":32,"q":8},
{"d":33,"q":2},{"d":33,"q":6},{"d":33,"q":11},{"d":33,"q":13},{"d":34,"q":2},{"d":34,"q":6},{"d":34,"q":11},{"d":34,"q":13},{"d":35,"q":2},{"d":35,"q":6},{"d":35,"q":11},{"d":35,"q":13},{"d":36,"q":2},{"d":36,"q":6},{"d":36,"q":11},{"d":36,"q":13},{"d":37,"q":2},{"d":37,"q":6},{"d":37,"q":11},{"d":37,"q":13},{"d":38,"q":2},{"d":38,"q":6},{"d":38,"q":11},{"d":38,"q":13},{"d":39,"q":2},{"d":39,"q":6},{"d":39,"q":11},{"d":39,"q":14},
{"d":40,"q":4},{"d":40,"q":9},{"d":40,"q":14},{"d":40,"q":20},{"d":41,"q":4},{"d":41,"q":9},{"d":41,"q":14},{"d":41,"q":20},{"d":42,"q":4},{"d":42,"q":9},{"d":42,"q":14},{"d":42,"q":20},{"d":43,"q":4},{"d":43,"q":9},{"d":43,"q":14},{"d":43,"q":20},{"d":44,"q":4},{"d":44,"q":9},{"d":44,"q":14},{"d":44,"q":20},{"d":45,"q":4},{"d":45,"q":9},{"d":45,"q":14},{"d":45,"q":20},{"d":46,"q":4},{"d":46,"q":9},{"d":46,"q":14},{"d":46,"q":20},{"d":47,"q":4},{"d":47,"q":9},{"d":47,"q":14},{"d":47,"q":20},{"d":48,"q":4},{"d":48,"q":9},{"d":48,"q":14},{"d":48,"q":20},{"d":49,"q":4},{"d":49,"q":9},{"d":49,"q":14},{"d":49,"q":20},
{"d":50,"q":4},{"d":50,"q":9},{"d":50,"q":14},{"d":50,"q":19},{"d":50,"q":24},{"d":51,"q":4},{"d":51,"q":9},{"d":51,"q":14},{"d":51,"q":19},{"d":51,"q":24},{"d":52,"q":4},{"d":52,"q":9},{"d":52,"q":14},{"d":52,"q":19},{"d":52,"q":25},{"d":53,"q":4},{"d":53,"q":9},{"d":53,"q":14},{"d":53,"q":19},{"d":53,"q":24},{"d":54,"q":4},{"d":54,"q":9},{"d":54,"q":14},{"d":54,"q":19},{"d":54,"q":24},{"d":55,"q":4},{"d":55,"q":9},{"d":55,"q":14},{"d":55,"q":19},{"d":55,"q":24},{"d":56,"q":4},{"d":56,"q":9},{"d":56,"q":14},{"d":56,"q":19},{"d":56,"q":24},{"d":57,"q":4},{"d":57,"q":9},{"d":57,"q":14},{"d":57,"q":19},{"d":57,"q":24},{"d":58,"q":4},{"d":58,"q":9},{"d":58,"q":14},{"d":58,"q":19},{"d":58,"q":24},{"d":59,"q":4},{"d":59,"q":9},{"d":59,"q":14},{"d":59,"q":19},{"d":59,"q":25},
{"d":60,"q":4},{"d":60,"q":9},{"d":60,"q":14},{"d":60,"q":19},{"d":60,"q":24},{"d":60,"q":30},{"d":61,"q":4},{"d":61,"q":9},{"d":61,"q":14},{"d":61,"q":19},{"d":61,"q":24},{"d":61,"q":31},{"d":62,"q":4},{"d":62,"q":9},{"d":62,"q":14},{"d":62,"q":19},{"d":62,"q":24},{"d":62,"q":30},{"d":63,"q":4},{"d":63,"q":9},{"d":63,"q":14},{"d":63,"q":19},{"d":63,"q":24},{"d":63,"q":31},{"d":64,"q":4},{"d":64,"q":9},{"d":64,"q":14},{"d":64,"q":19},{"d":64,"q":24},{"d":64,"q":30},{"d":65,"q":4},{"d":65,"q":9},{"d":65,"q":14},{"d":65,"q":19},{"d":65,"q":24},{"d":65,"q":30},{"d":66,"q":4},{"d":66,"q":9},{"d":66,"q":14},{"d":66,"q":19},{"d":66,"q":24},{"d":66,"q":30},{"d":67,"q":4},{"d":67,"q":9},{"d":67,"q":14},{"d":67,"q":19},{"d":67,"q":24},{"d":67,"q":30},{"d":68,"q":4},{"d":68,"q":9},{"d":68,"q":14},{"d":68,"q":19},{"d":68.5,"q":30},{"d":69,"q":4},{"d":69,"q":9},{"d":69,"q":14},{"d":69,"q":20},{"d":70,"q":4},{"d":70,"q":9},{"d":70,"q":30},{"d":70.5,"q":14},{"d":71,"q":4},{"d":71.5,"q":5},
{"d":75,"q":371},{"d":75,"q":361},{"d":32,"q":302},{"d":63.9,"q":210},{"d":19.9,"q":188},{"d":75,"q":181},{"d":31.1,"q":150},{"d":31.1,"q":144},{"d":75,"q":144},{"d":75,"q":121},{"d":25.2,"q":102},{"d":75,"q":104},{"d":30.5,"q":91},{"d":34.4,"q":91},{"d":75,"q":91},{"d":75,"q":66},{"d":26.7,"q":59},{"d":30.1,"q":60},{"d":55.7,"q":50},{"d":75,"q":47},{"d":75,"q":41},{"d":75,"q":35},{"d":75,"q":29},{"d":75,"q":23},{"d":75,"q":16},{"d":31.7,"q":44},{"d":45,"q":39},{"d":47,"q":39},{"d":47.5,"q":39},{"d":58.8,"q":40},{"d":64.5,"q":37},{"d":10.4,"q":38},{"d":10.1,"q":30},{"d":13.3,"q":30},{"d":15.1,"q":37},{"d":15.1,"q":16},{"d":14.8,"q":13},{"d":10.1,"q":12},{"d":19,"q":26},{"d":19.7,"q":26},{"d":20.4,"q":21},{"d":21.1,"q":18},{"d":24,"q":39},{"d":24.9,"q":38},{"d":25.1,"q":18},{"d":29,"q":32},{"d":30.1,"q":31},{"d":34,"q":25},{"d":50.5,"q":24},{"d":52.7,"q":26}]
},
"vconcat":[
{"width":1499,"height":126,"layer":[
{"data":{"values":[{"t":"Customer Analysis"}]},"mark":{"type":"text","align":"left","baseline":"middle","fontSize":60.5,"color":"#000","dx":-744.5,"dy":4,"clip":true},"encoding":{"text":{"field":"t"}}},
{"data":{"values":[{"t":"Select Category"}]},"mark":{"type":"text","align":"left","baseline":"middle","fontSize":30.4,"color":"#333","dx":-112.5,"dy":-5,"clip":true},"encoding":{"text":{"field":"t"}}},
{"data":{"values":[{"t":"All"}]},"mark":{"type":"text","align":"left","baseline":"middle","fontSize":25,"color":"#555","dx":-110,"dy":31,"clip":true},"encoding":{"text":{"field":"t"}}},
{"data":{"values":[{"t":"Total Revenue"}]},"mark":{"type":"text","align":"left","baseline":"middle","fontSize":30.5,"color":"#333","dx":423.5,"dy":-25,"clip":true},"encoding":{"text":{"field":"t"}}},
{"data":{"values":[{"t":"$233,650,194"}]},"mark":{"type":"text","align":"left","baseline":"middle","fontSize":31.6,"color":"#333","dx":423.5,"dy":28,"clip":true},"encoding":{"text":{"field":"t"}}}
]},
{"width":1491,"height":4,"data":{"values":[{"part":"divider"}]},"mark":{"type":"rect","color":"#000"},"encoding":{}},
{"resolve":{"scale":{"color":"independent"}},"hconcat":[
{"width":3,"height":10,"data":{"values":[{"part":"gap"}]},"mark":{"type":"rect","opacity":0,"clip":true},"encoding":{}},
{"resolve":{"scale":{"color":"independent"}},"vconcat":[
{"width":508,"height":75,"data":{"values":[{"t":"Month-Wise Revenue"}]},"mark":{"type":"text","fontSize":25.2,"color":"#333","baseline":"middle","dx":-1,"dy":10.5,"clip":true},"encoding":{"text":{"field":"t"}}},
{"width":508,"height":340,"view":{"fill":"#ffffff"},"data":{"name":"months"},
"encoding":{"x":{"field":"month","type":"nominal","sort":null,"scale":{"type":"band"},"axis":{"title":null,"offset":-125,"labelAngle":270,"labelFontSize":15,"labelColor":"#888888","domainColor":"#eeeeee","tickColor":"#e4e4e4","tickSize":5,"tickBand":"extent","labelPadding":2,"grid":false}},"y":{"field":"rev","type":"quantitative","scale":{"domain":[0,57.7],"range":[215.3,12.7],"zero":false,"nice":false},"axis":null}},
"layer":[
{"mark":{"type":"line","strokeWidth":4,"clip":true,"stroke":{"gradient":"linear","x1":0,"y1":1,"x2":0,"y2":0,"stops":[{"offset":0,"color":"#f0cfe8"},{"offset":0.35,"color":"#d0a3c4"},{"offset":0.65,"color":"#a8739f"},{"offset":1,"color":"#6f4470"}]}}},
{"mark":{"type":"circle","size":50,"opacity":1,"clip":true},"encoding":{"color":{"field":"rev","type":"quantitative","legend":null,"scale":{"domain":[4.4,24,36.7,57.7],"range":["#f0cfe8","#d0a3c4","#a8739f","#6f4470"]}}}},
{"mark":{"type":"text","fontSize":15.3,"color":"#333","clip":true,"dx":{"expr":"{'October 2020':1,'November 2020':27,'December 2020':-33,'January 2021':-1,'February 2021':22,'March 2021':-28,'April 2021':-1,'May 2021':-2,'June 2021':-1,'July 2021':-1,'August 2021':-1,'September 2021':-8}[datum.month]"},"dy":{"expr":"{'October 2020':7,'November 2020':18,'December 2020':0,'January 2021':14,'February 2021':4,'March 2021':-16,'April 2021':-16,'May 2021':18,'June 2021':-15,'July 2021':16,'August 2021':-16,'September 2021':18}[datum.month]"}},"encoding":{"text":{"field":"label"}}}
]},
{"width":508,"height":58,"data":{"values":[{"t":"Region-Wise Revenue Share (%)"}]},"mark":{"type":"text","fontSize":25.2,"color":"#333","baseline":"middle","dx":-2,"dy":3,"clip":true},"encoding":{"text":{"field":"t"}}},
{"width":506,"height":394,"view":{"fill":"#ffffff"},"data":{"name":"regions"},
"encoding":{"theta":{"field":"share","type":"quantitative","stack":true},"order":{"field":"i","type":"quantitative"}},
"layer":[
{"mark":{"type":"arc","innerRadius":65,"outerRadius":134.5,"clip":true},"encoding":{"color":{"field":"region","type":"nominal","legend":null,"scale":{"domain":["Midwest","Northeast","South","West"],"range":["#f9a629","#5ecfcb","#ee2030","#5fbb62"]}}}},
{"mark":{"type":"text","radius":173,"fontSize":15,"color":"#333","clip":true,"dx":{"expr":"{'Midwest':2,'Northeast':7,'South':-1,'West':-8}[datum.region]"},"dy":{"expr":"{'Midwest':-8,'Northeast':-10,'South':-12,'West':-1}[datum.region]"}},"encoding":{"text":{"field":"region"}}},
{"mark":{"type":"text","radius":173,"fontSize":15,"color":"#333","clip":true,"dx":{"expr":"{'Midwest':2,'Northeast':7,'South':-1,'West':-8}[datum.region]"},"dy":{"expr":"{'Midwest':14,'Northeast':12,'South':10,'West':21}[datum.region]"}},"encoding":{"text":{"field":"pct"}}}
]}
]},
{"resolve":{"scale":{"color":"independent"}},"vconcat":[
{"width":517,"height":79,"data":{"values":[{"t":"Revenue per State"}]},"mark":{"type":"text","fontSize":25.2,"color":"#333","baseline":"middle","dx":-0.5,"dy":11.5,"clip":true},"encoding":{"text":{"field":"t"}}},
{"resolve":{"scale":{"color":"independent"}},"hconcat":[
{"width":4,"height":10,"data":{"values":[{"part":"gap"}]},"mark":{"type":"rect","opacity":0,"clip":true},"encoding":{}},
{"width":509,"height":341,"view":{"fill":"#73cdf1"},"projection":{"type":"mercator","scale":482,"translate":[1071,549]},
"layer":[
{"data":{"name":"land"},"mark":{"type":"geoshape","fill":"#e4ecc3","stroke":null,"clip":true}},
{"data":{"name":"water"},"mark":{"type":"geoshape","fill":"#73cdf1","stroke":null,"clip":true}},
{"data":{"name":"boxes"},"mark":{"type":"geoshape","fill":"#eef0ee","stroke":null,"clip":true}},
{"data":{"name":"states"},"mark":{"type":"geoshape","stroke":"#777777","strokeWidth":1.3,"clip":true},"encoding":{"color":{"field":"properties.rev","type":"quantitative","legend":null,"scale":{"domain":[1,2.3,3.8,4.5,5.2,6.3,8,8.5,10.2,11.4,13.9,15.5],"range":["#57967a","#5e9875","#6f9e67","#86a45d","#9bae55","#b8b850","#dbce3d","#e4cb3e","#edb63f","#f3b944","#d88a4b","#c1654c"]}}}},
{"data":{"name":"stateLabels"},"mark":{"type":"text","fontSize":15.5,"color":"#000","clip":true},"encoding":{"longitude":{"field":"lon","type":"quantitative"},"latitude":{"field":"lat","type":"quantitative"},"text":{"field":"t"}}},
{"data":{"name":"credit"},"mark":{"type":"geoshape","fill":"#f4f4f4","stroke":null,"clip":true}},
{"data":{"values":[{"t":"© 2023 Mapbox © OpenStreetMap","lon":-113.7,"lat":25.2}]},"mark":{"type":"text","font":"Liberation Sans","fontSize":13.7,"color":"#5a5a5a","clip":true},"encoding":{"longitude":{"field":"lon","type":"quantitative"},"latitude":{"field":"lat","type":"quantitative"},"text":{"field":"t"}}}
]}
]},
{"width":517,"height":55,"data":{"values":[{"t":"Gender-Wise Sales Analysis"}]},"mark":{"type":"text","fontSize":25.2,"color":"#333","baseline":"middle","dx":-11,"dy":2,"clip":true},"encoding":{"text":{"field":"t"}}},
{"resolve":{"scale":{"color":"independent"}},"hconcat":[
{"resolve":{"scale":{"color":"independent"}},"vconcat":[
{"resolve":{"scale":{"color":"independent"}},"hconcat":[
{"width":165,"height":320,"view":{"fill":"#ffffff"},"data":{"name":"gender"},
"encoding":{"y":{"field":"cat","type":"nominal","sort":null,"axis":null,"scale":{"type":"band","range":[2,327],"paddingInner":0.26,"paddingOuter":0.13}},"x":{"field":"f","type":"quantitative","axis":null,"scale":{"domain":[0,126],"range":[0,165],"reverse":true,"zero":false,"nice":false}}},
"layer":[
{"mark":{"type":"bar","clip":true},"encoding":{"color":{"field":"f","type":"quantitative","legend":null,"scale":{"domain":[0,8,15,66.27],"range":["#f2d46a","#d2c85f","#aebf5c","#176e3a"]}}}},
{"mark":{"type":"text","align":"right","fontSize":15.5,"color":"#333","dx":-9,"clip":true},"encoding":{"text":{"field":"fl"}}}
]},
{"width":165,"height":320,"view":{"fill":"#ffffff"},"data":{"name":"gender"},
"mark":{"type":"text","fontSize":14.6,"color":"#666666","clip":true},
"encoding":{"y":{"field":"cat","type":"nominal","sort":null,"axis":null,"scale":{"type":"band","range":[2,327],"paddingInner":0.26,"paddingOuter":0.13}},"text":{"field":"cat"}}},
{"width":164,"height":320,"view":{"fill":"#ffffff"},"data":{"name":"gender"},
"encoding":{"y":{"field":"cat","type":"nominal","sort":null,"axis":null,"scale":{"type":"band","range":[2,327],"paddingInner":0.26,"paddingOuter":0.13}},"x":{"field":"m","type":"quantitative","axis":null,"scale":{"domain":[0,120.6],"range":[0,164],"zero":false,"nice":false}}},
"layer":[
{"mark":{"type":"bar","clip":true},"encoding":{"color":{"field":"m","type":"quantitative","legend":null,"scale":{"domain":[0,8,15,66.27],"range":["#f2d46a","#d2c85f","#aebf5c","#176e3a"]}}}},
{"mark":{"type":"text","align":"left","fontSize":15.5,"color":"#333","dx":6,"clip":true},"encoding":{"text":{"field":"ml"}}}
]}
]},
{"hconcat":[
{"width":165,"height":71,"view":{"fill":"#ffffff"},"data":{"name":"gender"},"mark":{"type":"rule","opacity":0,"clip":true},
"encoding":{"x":{"field":"f","type":"quantitative","scale":{"domain":[0,126],"range":[0,165],"reverse":true,"zero":false,"nice":false},"axis":{"orient":"bottom","offset":-71,"values":[0,50,100],"labelExpr":"datum.value+'M'","labelFlush":1,"labelFlushOffset":-3,"labelFontSize":15,"labelColor":"#888888","labelPadding":8,"domain":false,"tickColor":"#e4e4e4","tickSize":5,"grid":false,"title":"Female","titleFontSize":15,"titleFontWeight":"normal","titleColor":"#333","titleY":57.5,"titleBaseline":"alphabetic"}}}},
{"width":165,"height":71,"view":{"fill":"#ffffff"},"data":{"values":[{"t":"Categories"}]},"mark":{"type":"text","fontSize":15,"color":"#333","dy":17.5,"clip":true},"encoding":{"text":{"field":"t"}}},
{"width":164,"height":71,"view":{"fill":"#ffffff"},"data":{"name":"gender"},"mark":{"type":"rule","opacity":0,"clip":true},
"encoding":{"x":{"field":"m","type":"quantitative","scale":{"domain":[0,120.6],"range":[0,164],"zero":false,"nice":false},"axis":{"orient":"bottom","offset":-71,"values":[0,50,100],"labelExpr":"datum.value+'M'","labelFlush":1,"labelFlushOffset":-3,"labelFontSize":15,"labelColor":"#888888","labelPadding":8,"domain":false,"tickColor":"#e4e4e4","tickSize":5,"grid":false,"title":"Male","titleFontSize":15,"titleFontWeight":"normal","titleColor":"#333","titleY":57.5,"titleBaseline":"alphabetic"}}}}
]}
]},
{"width":2,"height":10,"data":{"values":[{"part":"gap"}]},"mark":{"type":"rect","opacity":0,"clip":true},"encoding":{}},
{"width":21,"height":391,"data":{"values":[{"part":"thumb","from":0,"to":271},{"part":"track","from":271,"to":320}]},"mark":{"type":"rect","stroke":"#b0b0b0","strokeWidth":1.5,"clip":true},
"encoding":{"y":{"field":"from","type":"quantitative","axis":null,"scale":{"domain":[0,391],"range":[0,391],"zero":false,"nice":false}},"y2":{"field":"to"},"color":{"field":"part","type":"nominal","legend":null,"scale":{"domain":["thumb","track"],"range":["#ededed","#ffffff"]}}}}
]}
]},
{"width":2,"height":10,"data":{"values":[{"part":"gap"}]},"mark":{"type":"rect","opacity":0,"clip":true},"encoding":{}},
{"resolve":{"scale":{"color":"independent"}},"vconcat":[
{"width":466,"height":75,"data":{"values":[{"t":"Age-Wise Sales Analysis"}]},"mark":{"type":"text","fontSize":25.2,"color":"#333","baseline":"middle","dx":-1,"dy":10.5,"clip":true},"encoding":{"text":{"field":"t"}}},
{"width":466,"height":344,"view":{"fill":"#ffffff"},"data":{"name":"ages"},
"encoding":{"x":{"field":"age","type":"nominal","sort":null,"scale":{"type":"band","range":[1,464.5],"paddingInner":0.245,"paddingOuter":0.12},"axis":{"title":null,"offset":-51,"labelAngle":270,"labelFontSize":15,"labelColor":"#888888","domainColor":"#eeeeee","tickColor":"#e4e4e4","tickSize":5,"tickBand":"extent","labelPadding":3,"grid":false}},"y":{"field":"rev","type":"quantitative","scale":{"domain":[0,44.8],"range":[292.7,35],"zero":false,"nice":false},"axis":null}},
"layer":[
{"mark":{"type":"bar","clip":true},"encoding":{"color":{"field":"rev","type":"quantitative","legend":null,"scale":{"domain":[7,23.6,37.8,39.5,39.9,41.1,44.8],"range":["#ffffd9","#d0eeb0","#70c7bc","#65c3bf","#60c2be","#58bfc0","#40b6c4"]}}}},
{"mark":{"type":"text","baseline":"bottom","fontSize":15.3,"color":"#333","dx":-1.5,"dy":-4,"clip":true},"encoding":{"text":{"field":"label"}}}
]},
{"width":466,"height":56,"data":{"values":[{"t":"Quantity - Discount Correlation"}]},"mark":{"type":"text","fontSize":25.2,"color":"#333","baseline":"middle","dy":1,"clip":true},"encoding":{"text":{"field":"t"}}},
{"width":466,"height":391,"view":{"fill":"#ffffff"},"data":{"name":"orders"},
"encoding":{"x":{"type":"quantitative","scale":{"domain":[-3.8,80],"range":[75.7,465.7],"zero":false,"nice":false}},"y":{"type":"quantitative","scale":{"domain":[-25.6,398],"range":[319.3,0],"zero":false,"nice":false}}},
"layer":[
{"data":{"values":[{"a":-3.8,"b":80,"c":0}]},"mark":{"type":"rule","color":"#bbbbbb","strokeWidth":1.2,"strokeDash":[2,2],"clip":true},"encoding":{"x":{"field":"a","type":"quantitative","axis":{"orient":"bottom","offset":-71.7,"values":[0,20,40,60,80],"labelFlush":1,"labelFlushOffset":-3,"labelFontSize":15,"labelColor":"#888888","labelPadding":13,"ticks":false,"domainColor":"#eeeeee","domainWidth":1.5,"grid":true,"gridColor":"#f0f0f0","gridWidth":1.5,"title":"Discount_Percent","titleFontSize":15,"titleFontWeight":"normal","titleColor":"#333","titleY":58,"titleBaseline":"alphabetic"}},"x2":{"field":"b"},"y":{"field":"c","type":"quantitative","axis":{"orient":"left","offset":-75.7,"minExtent":0,"values":[0,100,200,300],"labelFontSize":15,"labelColor":"#888888","labelPadding":10,"ticks":false,"domainColor":"#eeeeee","domainWidth":1.5,"grid":true,"gridColor":"#f0f0f0","gridWidth":1.5,"title":"Qty Ordered","titleFontSize":15,"titleFontWeight":"normal","titleColor":"#333","titleX":-47.7}}}},
{"data":{"values":[{"a":-25.6,"b":398,"c":0}]},"mark":{"type":"rule","color":"#bbbbbb","strokeWidth":1.2,"strokeDash":[2,2],"clip":true},"encoding":{"y":{"field":"a","type":"quantitative"},"y2":{"field":"b"},"x":{"field":"c","type":"quantitative"}}},
{"mark":{"type":"point","shape":"circle","filled":false,"size":125,"strokeWidth":3,"color":"#4e79a7","opacity":1,"clip":true},"encoding":{"x":{"field":"d","type":"quantitative"},"y":{"field":"q","type":"quantitative"}}}
]}
]}
]}
]}
